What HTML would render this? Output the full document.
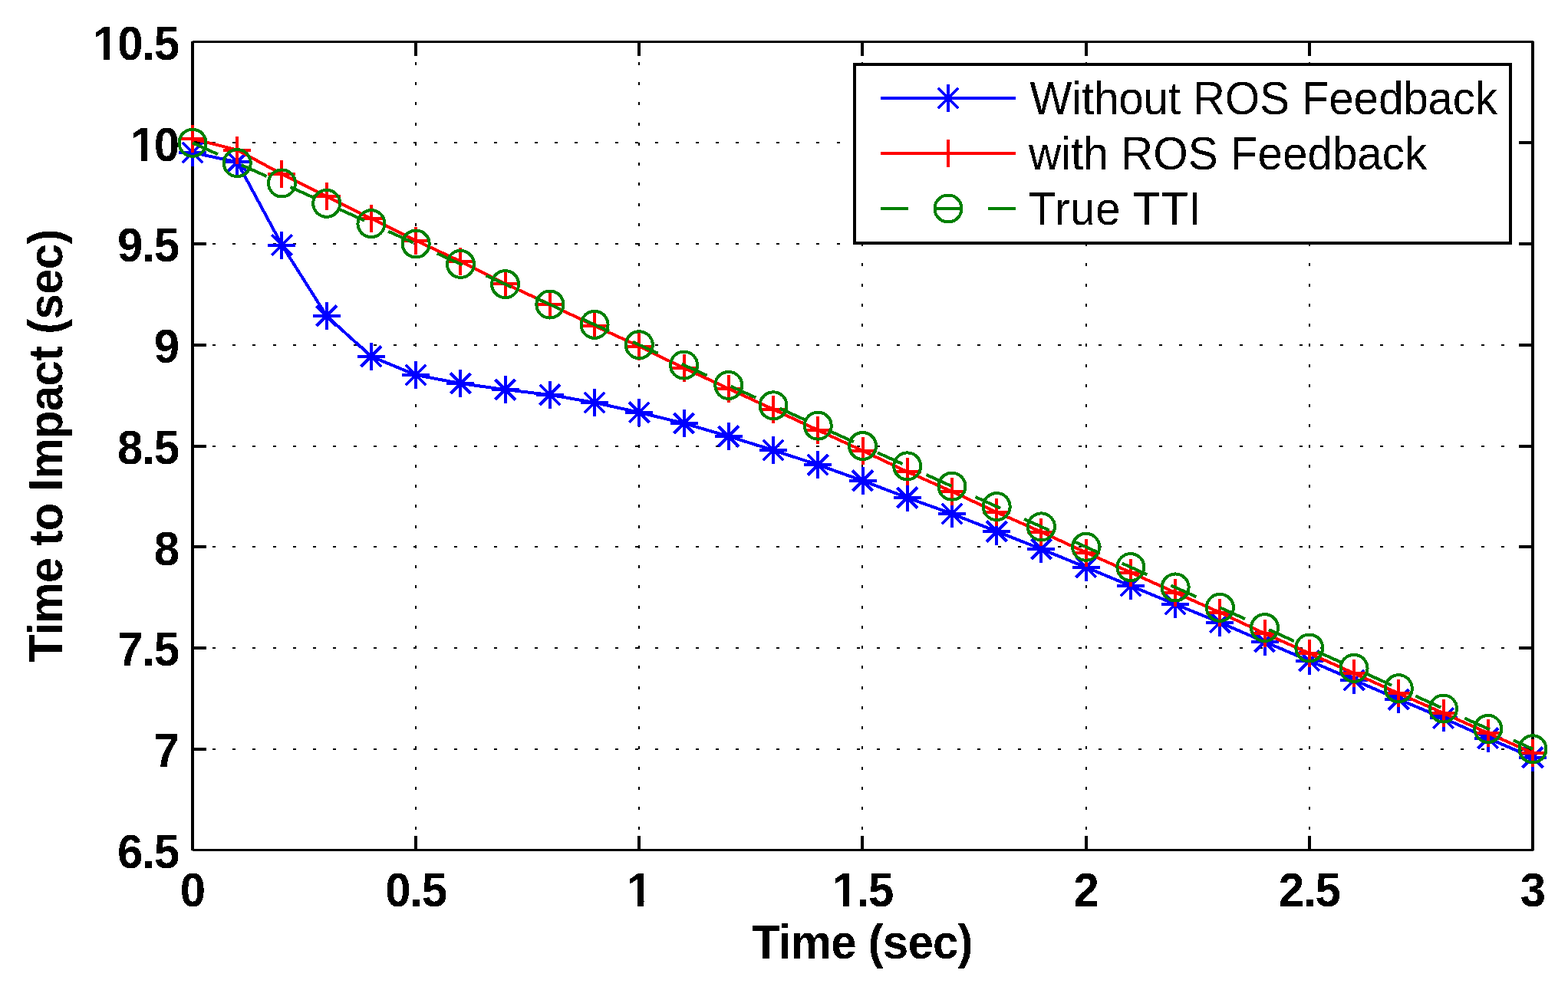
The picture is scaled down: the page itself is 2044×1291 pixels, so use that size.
<!DOCTYPE html><html><head><meta charset="utf-8"><title>Time to Impact</title><style>html,body{margin:0;padding:0;background:#fff;overflow:hidden}svg{display:block}text{font-family:"Liberation Sans",sans-serif}</style></head><body>
<svg width="2044" height="1291" viewBox="0 0 2044 1291" shape-rendering="crispEdges">
<defs><filter id="th" x="0" y="0" width="2044" height="1291" filterUnits="userSpaceOnUse" color-interpolation-filters="sRGB"><feComponentTransfer><feFuncA type="discrete" tableValues="0 1"/></feComponentTransfer></filter></defs>
<rect width="2044" height="1291" fill="#fff"/>
<path d="M542 54.5V1108.5M833 54.5V1108.5M1124 54.5V1108.5M1416 54.5V1108.5M1707 54.5V1108.5" stroke="#000" stroke-width="2" stroke-dasharray="4 22.25" fill="none"/>
<path d="M250.6 186H1998M250.6 318H1998M250.6 450H1998M250.6 582H1998M250.6 713H1998M250.6 845H1998M250.6 977H1998" stroke="#000" stroke-width="2" stroke-dasharray="4 22.25" fill="none"/>
<path d="M542 1108.5V1090M542 54.5V72.5M833 1108.5V1090M833 54.5V72.5M1124 1108.5V1090M1124 54.5V72.5M1416 1108.5V1090M1416 54.5V72.5M1707 1108.5V1090M1707 54.5V72.5M251 186H269M1998 186H1980M251 318H269M1998 318H1980M251 450H269M1998 450H1980M251 582H269M1998 582H1980M251 713H269M1998 713H1980M251 845H269M1998 845H1980M251 977H269M1998 977H1980" stroke="#000" stroke-width="4" fill="none"/>
<path d="M251 54V1109M1998 54V1109" stroke="#000" stroke-width="4" fill="none"/>
<path d="M251 54.5H1999M251 1108.5H1999" stroke="#000" stroke-width="3" fill="none"/>
<polyline points="251,199 309.23,211.4 367.47,319.6 425.7,411.9 483.93,464.9 542.16,489 600.4,500 658.63,508.1 716.86,514.9 775.1,525 833.33,537.8 891.56,552 949.8,569 1008.03,587.1 1066.26,606.1 1124.5,626.9 1182.73,649 1240.96,670 1299.19,693 1357.43,716 1415.66,739.8 1473.89,764 1532.13,788 1590.36,811.8 1648.59,837 1706.83,861.7 1765.06,886.8 1823.29,912 1881.52,936.4 1939.76,962.7 1997.99,987.8" fill="none" stroke="#0000ff" stroke-width="4" stroke-linejoin="miter" />
<path d="M233 199H269M251 181V217M237.8 185.8L264.2 212.2M237.8 212.2L264.2 185.8M291.23 211.4H327.23M309.23 193.4V229.4M296.03 198.2L322.43 224.6M296.03 224.6L322.43 198.2M349.47 319.6H385.47M367.47 301.6V337.6M354.27 306.4L380.67 332.8M354.27 332.8L380.67 306.4M407.7 411.9H443.7M425.7 393.9V429.9M412.5 398.7L438.9 425.1M412.5 425.1L438.9 398.7M465.93 464.9H501.93M483.93 446.9V482.9M470.73 451.7L497.13 478.1M470.73 478.1L497.13 451.7M524.16 489H560.16M542.16 471V507M528.96 475.8L555.37 502.2M528.96 502.2L555.37 475.8M582.4 500H618.4M600.4 482V518M587.2 486.8L613.6 513.2M587.2 513.2L613.6 486.8M640.63 508.1H676.63M658.63 490.1V526.1M645.43 494.9L671.83 521.3M645.43 521.3L671.83 494.9M698.86 514.9H734.86M716.86 496.9V532.9M703.66 501.7L730.06 528.1M703.66 528.1L730.06 501.7M757.1 525H793.1M775.1 507V543M761.9 511.8L788.3 538.2M761.9 538.2L788.3 511.8M815.33 537.8H851.33M833.33 519.8V555.8M820.13 524.6L846.53 551M820.13 551L846.53 524.6M873.56 552H909.56M891.56 534V570M878.36 538.8L904.76 565.2M878.36 565.2L904.76 538.8M931.8 569H967.8M949.8 551V587M936.6 555.8L963 582.2M936.6 582.2L963 555.8M990.03 587.1H1026.03M1008.03 569.1V605.1M994.83 573.9L1021.23 600.3M994.83 600.3L1021.23 573.9M1048.26 606.1H1084.26M1066.26 588.1V624.1M1053.06 592.9L1079.46 619.3M1053.06 619.3L1079.46 592.9M1106.5 626.9H1142.5M1124.5 608.9V644.9M1111.3 613.7L1137.7 640.1M1111.3 640.1L1137.7 613.7M1164.73 649H1200.73M1182.73 631V667M1169.53 635.8L1195.93 662.2M1169.53 662.2L1195.93 635.8M1222.96 670H1258.96M1240.96 652V688M1227.76 656.8L1254.16 683.2M1227.76 683.2L1254.16 656.8M1281.19 693H1317.19M1299.19 675V711M1285.99 679.8L1312.39 706.2M1285.99 706.2L1312.39 679.8M1339.43 716H1375.43M1357.43 698V734M1344.23 702.8L1370.63 729.2M1344.23 729.2L1370.63 702.8M1397.66 739.8H1433.66M1415.66 721.8V757.8M1402.46 726.6L1428.86 753M1402.46 753L1428.86 726.6M1455.89 764H1491.89M1473.89 746V782M1460.69 750.8L1487.09 777.2M1460.69 777.2L1487.09 750.8M1514.13 788H1550.13M1532.13 770V806M1518.93 774.8L1545.33 801.2M1518.93 801.2L1545.33 774.8M1572.36 811.8H1608.36M1590.36 793.8V829.8M1577.16 798.6L1603.56 825M1577.16 825L1603.56 798.6M1630.59 837H1666.59M1648.59 819V855M1635.39 823.8L1661.79 850.2M1635.39 850.2L1661.79 823.8M1688.83 861.7H1724.83M1706.83 843.7V879.7M1693.62 848.5L1720.03 874.9M1693.62 874.9L1720.03 848.5M1747.06 886.8H1783.06M1765.06 868.8V904.8M1751.86 873.6L1778.26 900M1751.86 900L1778.26 873.6M1805.29 912H1841.29M1823.29 894V930M1810.09 898.8L1836.49 925.2M1810.09 925.2L1836.49 898.8M1863.52 936.4H1899.52M1881.52 918.4V954.4M1868.32 923.2L1894.72 949.6M1868.32 949.6L1894.72 923.2M1921.76 962.7H1957.76M1939.76 944.7V980.7M1926.56 949.5L1952.96 975.9M1926.56 975.9L1952.96 949.5M1979.99 987.8H2015.99M1997.99 969.8V1005.8M1984.79 974.6L2011.19 1001M1984.79 1001L2011.19 974.6" stroke="#0000ff" stroke-width="4" fill="none"/>
<polyline points="251,181 309.23,195.6 367.47,227 425.7,256.1 483.93,285 542.16,313.7 600.4,340.9 658.63,370 716.86,397 775.1,424.9 833.33,451.7 891.56,480 949.8,506.8 1008.03,533.8 1066.26,560.9 1124.5,587.8 1182.73,615.2 1240.96,641 1299.19,668 1357.43,693.7 1415.66,720.5 1473.89,746.5 1532.13,772.8 1590.36,798.8 1648.59,826.1 1706.83,852 1765.06,878 1823.29,904.2 1881.52,930 1939.76,956 1997.99,982" fill="none" stroke="#ff0000" stroke-width="4" stroke-linejoin="miter" />
<path d="M233 181H269M251 163V199M291.23 195.6H327.23M309.23 177.6V213.6M349.47 227H385.47M367.47 209V245M407.7 256.1H443.7M425.7 238.1V274.1M465.93 285H501.93M483.93 267V303M524.16 313.7H560.16M542.16 295.7V331.7M582.4 340.9H618.4M600.4 322.9V358.9M640.63 370H676.63M658.63 352V388M698.86 397H734.86M716.86 379V415M757.1 424.9H793.1M775.1 406.9V442.9M815.33 451.7H851.33M833.33 433.7V469.7M873.56 480H909.56M891.56 462V498M931.8 506.8H967.8M949.8 488.8V524.8M990.03 533.8H1026.03M1008.03 515.8V551.8M1048.26 560.9H1084.26M1066.26 542.9V578.9M1106.5 587.8H1142.5M1124.5 569.8V605.8M1164.73 615.2H1200.73M1182.73 597.2V633.2M1222.96 641H1258.96M1240.96 623V659M1281.19 668H1317.19M1299.19 650V686M1339.43 693.7H1375.43M1357.43 675.7V711.7M1397.66 720.5H1433.66M1415.66 702.5V738.5M1455.89 746.5H1491.89M1473.89 728.5V764.5M1514.13 772.8H1550.13M1532.13 754.8V790.8M1572.36 798.8H1608.36M1590.36 780.8V816.8M1630.59 826.1H1666.59M1648.59 808.1V844.1M1688.83 852H1724.83M1706.83 834V870M1747.06 878H1783.06M1765.06 860V896M1805.29 904.2H1841.29M1823.29 886.2V922.2M1863.52 930H1899.52M1881.52 912V948M1921.76 956H1957.76M1939.76 938V974M1979.99 982H2015.99M1997.99 964V1000" stroke="#ff0000" stroke-width="4" fill="none"/>
<polyline points="251,186.25 309.23,212.6 367.47,238.95 425.7,265.3 483.93,291.65 542.16,318 600.4,344.35 658.63,370.7 716.86,397.05 775.1,423.4 833.33,449.75 891.56,476.1 949.8,502.45 1008.03,528.8 1066.26,555.15 1124.5,581.5 1182.73,607.85 1240.96,634.2 1299.19,660.55 1357.43,686.9 1415.66,713.25 1473.89,739.6 1532.13,765.95 1590.36,792.3 1648.59,818.65 1706.83,845 1765.06,871.35 1823.29,897.7 1881.52,924.05 1939.76,950.4 1997.99,976.75" fill="none" stroke="#008000" stroke-width="4" stroke-linejoin="miter" stroke-dasharray="36 34"/>
<circle cx="251" cy="186.25" r="17.5" fill="none" stroke="#008000" stroke-width="4"/><circle cx="309.23" cy="212.6" r="17.5" fill="none" stroke="#008000" stroke-width="4"/><circle cx="367.47" cy="238.95" r="17.5" fill="none" stroke="#008000" stroke-width="4"/><circle cx="425.7" cy="265.3" r="17.5" fill="none" stroke="#008000" stroke-width="4"/><circle cx="483.93" cy="291.65" r="17.5" fill="none" stroke="#008000" stroke-width="4"/><circle cx="542.16" cy="318" r="17.5" fill="none" stroke="#008000" stroke-width="4"/><circle cx="600.4" cy="344.35" r="17.5" fill="none" stroke="#008000" stroke-width="4"/><circle cx="658.63" cy="370.7" r="17.5" fill="none" stroke="#008000" stroke-width="4"/><circle cx="716.86" cy="397.05" r="17.5" fill="none" stroke="#008000" stroke-width="4"/><circle cx="775.1" cy="423.4" r="17.5" fill="none" stroke="#008000" stroke-width="4"/><circle cx="833.33" cy="449.75" r="17.5" fill="none" stroke="#008000" stroke-width="4"/><circle cx="891.56" cy="476.1" r="17.5" fill="none" stroke="#008000" stroke-width="4"/><circle cx="949.8" cy="502.45" r="17.5" fill="none" stroke="#008000" stroke-width="4"/><circle cx="1008.03" cy="528.8" r="17.5" fill="none" stroke="#008000" stroke-width="4"/><circle cx="1066.26" cy="555.15" r="17.5" fill="none" stroke="#008000" stroke-width="4"/><circle cx="1124.5" cy="581.5" r="17.5" fill="none" stroke="#008000" stroke-width="4"/><circle cx="1182.73" cy="607.85" r="17.5" fill="none" stroke="#008000" stroke-width="4"/><circle cx="1240.96" cy="634.2" r="17.5" fill="none" stroke="#008000" stroke-width="4"/><circle cx="1299.19" cy="660.55" r="17.5" fill="none" stroke="#008000" stroke-width="4"/><circle cx="1357.43" cy="686.9" r="17.5" fill="none" stroke="#008000" stroke-width="4"/><circle cx="1415.66" cy="713.25" r="17.5" fill="none" stroke="#008000" stroke-width="4"/><circle cx="1473.89" cy="739.6" r="17.5" fill="none" stroke="#008000" stroke-width="4"/><circle cx="1532.13" cy="765.95" r="17.5" fill="none" stroke="#008000" stroke-width="4"/><circle cx="1590.36" cy="792.3" r="17.5" fill="none" stroke="#008000" stroke-width="4"/><circle cx="1648.59" cy="818.65" r="17.5" fill="none" stroke="#008000" stroke-width="4"/><circle cx="1706.83" cy="845" r="17.5" fill="none" stroke="#008000" stroke-width="4"/><circle cx="1765.06" cy="871.35" r="17.5" fill="none" stroke="#008000" stroke-width="4"/><circle cx="1823.29" cy="897.7" r="17.5" fill="none" stroke="#008000" stroke-width="4"/><circle cx="1881.52" cy="924.05" r="17.5" fill="none" stroke="#008000" stroke-width="4"/><circle cx="1939.76" cy="950.4" r="17.5" fill="none" stroke="#008000" stroke-width="4"/><circle cx="1997.99" cy="976.75" r="17.5" fill="none" stroke="#008000" stroke-width="4"/>
<rect x="1114" y="84" width="855" height="233" fill="#fff" stroke="#000" stroke-width="4"/>
<path d="M1148 128H1324" stroke="#0000ff" stroke-width="4"/>
<path d="M1218 128H1254M1236 110V146M1222.8 114.8L1249.2 141.2M1222.8 141.2L1249.2 114.8" stroke="#0000ff" stroke-width="4" fill="none"/>
<path d="M1148 200H1324" stroke="#ff0000" stroke-width="4"/>
<path d="M1218 200H1254M1236 182V218" stroke="#ff0000" stroke-width="4" fill="none"/>
<path d="M1148 272H1324" stroke="#008000" stroke-width="4" stroke-dasharray="36 34"/>
<circle cx="1236" cy="272" r="17.5" fill="none" stroke="#008000" stroke-width="4"/>
<g filter="url(#th)">
<text transform="translate(1342.2,149) scale(1,1.04)" font-size="58.5" text-anchor="start" textLength="609.8" lengthAdjust="spacing">Without ROS Feedback</text>
<text transform="translate(1341,221.4) scale(1,1.04)" font-size="58.5" text-anchor="start" textLength="519.3" lengthAdjust="spacing">with ROS Feedback</text>
<text transform="translate(1340.8,293.1) scale(1,1.04)" font-size="58.5" text-anchor="start" textLength="225.05" lengthAdjust="spacing">True TTI</text>
<text transform="translate(251.5,1182) scale(1,1.05)" font-size="60" font-weight="bold" text-anchor="middle">0</text>
<text transform="translate(542.66,1182) scale(1,1.05)" font-size="60" font-weight="bold" text-anchor="middle" textLength="81.0" lengthAdjust="spacing">0.5</text>
<text transform="translate(833.83,1182) scale(1,1.05)" font-size="60" font-weight="bold" text-anchor="middle">1</text>
<text transform="translate(1125,1182) scale(1,1.05)" font-size="60" font-weight="bold" text-anchor="middle" textLength="81.0" lengthAdjust="spacing">1.5</text>
<text transform="translate(1416.16,1182) scale(1,1.05)" font-size="60" font-weight="bold" text-anchor="middle">2</text>
<text transform="translate(1707.33,1182) scale(1,1.05)" font-size="60" font-weight="bold" text-anchor="middle" textLength="81.0" lengthAdjust="spacing">2.5</text>
<text transform="translate(1998.49,1182) scale(1,1.05)" font-size="60" font-weight="bold" text-anchor="middle">3</text>
<text transform="translate(234,77.9) scale(1,1.05)" font-size="60" font-weight="bold" text-anchor="end" textLength="112.75" lengthAdjust="spacing">10.5</text>
<text transform="translate(234,209.65) scale(1,1.05)" font-size="60" font-weight="bold" text-anchor="end" textLength="64.5" lengthAdjust="spacing">10</text>
<text transform="translate(234,341.4) scale(1,1.05)" font-size="60" font-weight="bold" text-anchor="end" textLength="81.0" lengthAdjust="spacing">9.5</text>
<text transform="translate(234,473.15) scale(1,1.05)" font-size="60" font-weight="bold" text-anchor="end">9</text>
<text transform="translate(234,604.9) scale(1,1.05)" font-size="60" font-weight="bold" text-anchor="end" textLength="81.0" lengthAdjust="spacing">8.5</text>
<text transform="translate(234,736.65) scale(1,1.05)" font-size="60" font-weight="bold" text-anchor="end">8</text>
<text transform="translate(234,868.4) scale(1,1.05)" font-size="60" font-weight="bold" text-anchor="end" textLength="81.0" lengthAdjust="spacing">7.5</text>
<text transform="translate(234,1000.15) scale(1,1.05)" font-size="60" font-weight="bold" text-anchor="end">7</text>
<text transform="translate(234,1131.9) scale(1,1.05)" font-size="60" font-weight="bold" text-anchor="end" textLength="81.0" lengthAdjust="spacing">6.5</text>
<text transform="translate(1124.3,1250.1) scale(1,1.05)" font-size="60" font-weight="bold" text-anchor="middle" textLength="288.5" lengthAdjust="spacing">Time (sec)</text>
<text transform="translate(81,581.1) rotate(-90) scale(1,1.05)" font-size="60" font-weight="bold" text-anchor="middle" textLength="564.9" lengthAdjust="spacing">Time to Impact (sec)</text>
</g>
<path fill="#fff" d="M172 203h12v7h-12zM192 204h10v6h-10zM124 71h11v7h-11zM143 71h11v7h-11zM1087 1175h12v7h-12zM1107 1176h11v6h-11zM820 1175h11v7h-11zM839 1176h11v6h-11z"/>
</svg></body></html>
